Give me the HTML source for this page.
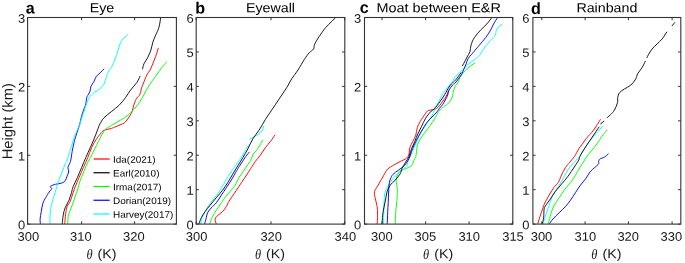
<!DOCTYPE html>
<html><head><meta charset="utf-8"><title>Potential temperature profiles</title>
<style>html,body{margin:0;padding:0;background:#fff}body{width:685px;height:263px;overflow:hidden}</style></head>
<body>
<svg width="685" height="263" viewBox="0 0 685 263" style="display:block" font-family="'Liberation Sans', sans-serif">
<rect width="685" height="263" fill="#fff"/>
<clipPath id="clip-a"><rect x="27.6" y="17.5" width="148.8" height="206.6"/></clipPath>
<g fill="none" stroke-width="1.1" stroke-linejoin="round" stroke-linecap="round" clip-path="url(#clip-a)">
<path stroke="#ff0000" stroke-width="0.95" d="M158.2 48.4C157.8 49.8 156.7 53.7 155.7 56.4C154.7 59.1 153.7 61.5 152.7 63.9C151.7 66.3 151.1 68.1 150.1 70.0C149.1 71.9 147.9 72.9 146.8 75.0C145.7 77.1 144.9 79.6 143.9 82.0C142.9 84.4 141.9 87.0 141.3 88.8C140.7 90.6 140.9 91.4 140.6 92.5C140.3 93.6 140.1 94.2 139.4 95.3C138.7 96.3 137.3 97.2 136.5 98.5C135.7 99.8 135.2 101.2 134.6 102.7C134.0 104.2 133.7 105.6 133.3 107.1C132.9 108.6 132.6 110.1 132.1 111.5C131.6 112.9 131.0 113.9 130.2 115.2C129.4 116.5 128.7 117.7 127.7 119.0C126.7 120.3 125.8 121.8 124.5 122.8C123.2 123.8 121.8 124.1 120.1 124.8C118.4 125.5 116.5 126.4 115.0 127.0C113.5 127.6 113.6 127.7 111.7 128.3C109.8 128.9 105.9 129.6 104.1 130.3C102.3 131.0 102.9 131.0 101.6 132.5C100.3 134.0 98.3 136.2 96.6 138.8C94.8 141.4 93.1 144.3 91.6 147.6C90.1 150.9 89.3 154.1 87.8 157.6C86.3 161.1 84.8 164.2 83.3 167.7C81.8 171.2 80.4 174.5 79.0 177.7C77.6 180.9 76.6 183.2 75.5 186.0C74.4 188.8 73.6 191.2 72.7 193.9C71.8 196.6 71.2 199.2 70.2 201.4C69.2 203.6 68.0 204.2 67.2 206.4C66.4 208.6 66.1 210.9 65.7 214.0C65.3 217.1 64.9 222.3 64.7 224.1"/>
<path stroke="#000000" stroke-width="0.9" d="M160.7 17.5C160.4 19.2 159.8 24.4 158.9 27.5C158.0 30.6 156.8 32.5 155.7 35.1C154.6 37.7 153.5 40.0 152.7 42.6C151.9 45.2 151.8 47.5 150.9 50.1C150.0 52.7 148.9 55.2 147.7 57.6C146.5 60.0 144.8 61.9 143.9 63.9C143.0 65.9 142.8 68.0 142.6 68.9"/>
<path stroke="#000000" stroke-width="0.9" d="M140.0 76.3C139.4 77.4 138.5 80.2 136.8 82.6C135.1 85.0 132.5 87.5 130.5 90.1C128.5 92.7 127.5 95.0 125.5 97.6C123.5 100.2 121.6 102.8 119.2 105.2C116.8 107.6 114.3 109.2 111.7 111.4C109.1 113.6 106.2 115.5 104.1 117.7C102.0 119.9 101.1 121.8 99.9 124.0C98.7 126.2 98.5 127.4 97.5 130.0C96.5 132.6 95.4 135.7 94.1 138.8C92.8 141.9 91.8 144.3 90.3 147.6C88.8 150.9 87.3 154.1 85.8 157.6C84.3 161.1 83.0 164.2 81.5 167.7C80.0 171.2 78.8 174.4 77.3 177.7C75.8 181.0 74.2 183.9 73.2 186.5C72.2 189.1 72.2 190.1 71.5 192.5C70.8 194.9 70.1 197.5 69.0 200.2C67.9 202.9 66.2 205.1 65.2 207.7C64.2 210.3 63.7 212.3 63.2 215.2C62.7 218.1 62.4 222.5 62.2 224.1"/>
<path stroke="#00ff00" stroke-width="0.95" d="M166.5 62.1C165.6 63.2 163.3 65.7 161.4 68.2C159.5 70.7 157.7 73.3 155.6 76.3C153.5 79.3 151.3 82.0 149.3 85.1C147.3 88.2 146.1 90.8 144.3 93.9C142.6 97.0 141.1 100.0 139.3 102.6C137.6 105.2 136.3 106.7 134.3 108.9C132.3 111.1 130.4 113.2 128.0 115.2C125.6 117.2 123.4 118.5 120.5 120.2C117.6 122.0 114.3 123.6 111.7 125.2C109.1 126.8 106.9 128.1 105.4 129.5C103.9 130.9 104.0 131.2 102.9 133.0C101.8 134.8 100.5 137.2 99.1 140.0C97.7 142.8 96.3 145.7 94.8 148.8C93.3 151.9 91.8 154.7 90.3 157.6C88.8 160.5 87.8 162.3 86.5 165.2C85.2 168.1 84.0 171.1 82.8 174.0C81.6 176.9 80.7 178.9 79.8 181.5C78.9 184.1 78.6 186.3 77.8 188.9C77.0 191.5 76.1 193.8 75.2 196.4C74.3 199.0 73.6 201.5 72.7 203.9C71.8 206.3 71.0 208.0 70.2 210.2C69.4 212.4 68.6 214.1 68.2 216.5C67.8 218.9 67.8 222.8 67.7 224.1"/>
<path stroke="#0000ff" stroke-width="0.95" d="M103.9 69.1C103.3 69.7 101.5 71.5 100.2 72.8C98.9 74.1 97.5 74.8 96.4 76.3C95.3 77.8 94.9 79.8 93.9 81.6C92.9 83.4 91.5 85.0 90.8 86.6C90.1 88.2 90.6 89.6 90.1 91.0C89.6 92.4 88.8 93.7 88.2 94.8C87.6 95.9 87.2 95.9 86.8 97.5C86.4 99.1 86.3 101.9 85.8 103.9C85.3 105.9 84.8 106.7 84.0 108.9C83.2 111.1 82.2 113.9 81.5 116.5C80.8 119.1 80.4 121.6 79.8 124.0C79.2 126.4 78.5 127.8 77.8 130.0C77.1 132.2 76.5 134.1 75.8 136.3C75.1 138.5 74.6 140.0 74.0 142.6C73.4 145.2 72.8 148.3 72.2 151.3C71.6 154.3 71.3 157.8 70.8 160.0C70.3 162.2 70.0 162.5 69.5 163.8C69.0 165.1 68.0 166.1 67.9 167.5C67.8 168.9 68.9 170.4 68.7 171.9C68.5 173.4 67.6 174.8 67.0 176.3C66.4 177.8 66.2 179.5 65.2 180.7C64.2 181.9 63.1 182.6 61.4 183.2C59.7 183.8 57.6 183.7 55.7 184.2C53.8 184.7 51.7 185.5 50.8 186.0C49.9 186.5 50.2 186.7 50.4 187.2C50.6 187.7 51.9 188.0 51.8 188.6C51.7 189.2 50.7 190.0 50.1 190.8C49.5 191.6 48.9 192.4 48.4 193.2C47.9 194.0 48.0 193.6 47.1 195.3C46.2 197.0 44.1 199.9 43.1 202.7C42.1 205.5 41.8 208.6 41.3 211.5C40.8 214.4 40.2 216.8 40.1 219.0C40.0 221.2 40.4 223.2 40.5 224.1"/>
<path stroke="#00ffff" stroke-width="0.95" d="M127.9 34.6C127.2 35.2 125.1 36.7 123.8 38.1C122.5 39.5 121.6 40.5 120.6 42.6C119.6 44.7 119.1 47.2 118.1 50.1C117.1 53.0 116.3 55.8 115.1 58.9C113.9 62.0 112.3 65.8 111.3 67.7C110.3 69.6 110.0 68.5 109.2 70.0C108.4 71.5 107.5 73.9 106.6 76.3C105.7 78.7 105.3 81.6 104.1 83.8C102.9 86.0 101.7 87.3 99.9 88.8C98.2 90.3 96.0 91.1 94.1 92.6C92.2 94.1 90.4 95.6 89.1 97.6C87.8 99.6 87.4 101.5 86.5 103.9C85.6 106.3 84.9 108.8 84.0 111.4C83.1 114.0 82.4 116.4 81.5 119.0C80.6 121.6 79.7 124.6 79.0 126.5C78.3 128.4 78.2 128.1 77.3 130.0C76.4 131.9 75.0 134.6 74.0 137.5C73.0 140.4 72.4 143.4 71.5 146.3C70.6 149.2 69.9 151.3 69.0 153.9C68.1 156.5 67.3 159.5 66.5 161.4C65.7 163.3 65.4 163.3 64.7 165.0C64.0 166.7 63.4 168.6 62.5 171.0C61.6 173.4 60.3 176.2 59.5 178.5C58.7 180.8 58.3 182.1 57.7 184.0C57.1 185.9 56.7 187.3 56.0 189.5C55.3 191.7 54.7 193.7 53.9 196.4C53.1 199.1 52.1 202.1 51.4 205.2C50.7 208.3 50.3 210.7 50.1 214.0C49.9 217.3 50.0 222.3 50.0 224.1"/>
</g>
<rect x="27.6" y="17.5" width="148.8" height="206.6" fill="none" stroke="#333333" stroke-width="1.1"/>
<path d="M27.5 224.1v-2.7M27.5 17.5v2.7M81.6 224.1v-2.7M81.6 17.5v2.7M134.6 224.1v-2.7M134.6 17.5v2.7M27.6 224.10h2.7M176.4 224.10h-2.7M27.6 155.23h2.7M176.4 155.23h-2.7M27.6 86.37h2.7M176.4 86.37h-2.7M27.6 17.50h2.7M176.4 17.50h-2.7" stroke="#333333" stroke-width="1.0" fill="none"/>
<text transform="translate(28.40,240.80) rotate(0.05) scale(1.045,1)" font-size="12.4" text-anchor="middle" font-weight="normal" fill="#1a1a1a">300</text>
<text transform="translate(80.80,240.80) rotate(0.05) scale(1.045,1)" font-size="12.4" text-anchor="middle" font-weight="normal" fill="#1a1a1a">310</text>
<text transform="translate(133.90,240.80) rotate(0.05) scale(1.045,1)" font-size="12.4" text-anchor="middle" font-weight="normal" fill="#1a1a1a">320</text>
<text transform="translate(25.20,229.30) rotate(0.05) scale(1.045,1)" font-size="12.4" text-anchor="end" font-weight="normal" fill="#1a1a1a">0</text>
<text transform="translate(25.20,160.43) rotate(0.05) scale(1.045,1)" font-size="12.4" text-anchor="end" font-weight="normal" fill="#1a1a1a">1</text>
<text transform="translate(25.20,91.57) rotate(0.05) scale(1.045,1)" font-size="12.4" text-anchor="end" font-weight="normal" fill="#1a1a1a">2</text>
<text transform="translate(25.20,22.70) rotate(0.05) scale(1.045,1)" font-size="12.4" text-anchor="end" font-weight="normal" fill="#1a1a1a">3</text>
<text transform="translate(102.00,12.20) rotate(0.05) scale(1.08,1)" font-size="13.2" text-anchor="middle" font-weight="normal" fill="#000">Eye</text>
<text transform="translate(25.80,13.50) rotate(0.05) scale(1.0,1)" font-size="16.1" text-anchor="start" font-weight="bold" fill="#000">a</text>
<text transform="translate(86.40,258.9) rotate(0.05) scale(0.86,1)" font-family="'Liberation Serif', 'DejaVu Serif', serif" font-style="italic" font-size="14.5" fill="#1a1a1a">θ</text>
<text transform="translate(116.60,258.20) rotate(0.05) scale(1.08,1)" font-size="13.2" text-anchor="end" font-weight="normal" fill="#1a1a1a">(K)</text>
<clipPath id="clip-b"><rect x="196.2" y="17.5" width="148.6" height="206.6"/></clipPath>
<g fill="none" stroke-width="1.1" stroke-linejoin="round" stroke-linecap="round" clip-path="url(#clip-b)">
<path stroke="#ff0000" stroke-width="0.95" d="M274.9 135.1C274.1 136.2 272.1 139.2 270.4 141.4C268.7 143.6 267.2 145.3 265.4 147.7C263.6 150.1 262.1 152.8 260.3 155.2C258.5 157.6 256.8 159.5 255.3 161.5C253.8 163.5 253.1 164.8 252.0 166.5C250.9 168.2 250.4 169.1 249.0 171.3C247.6 173.5 245.8 176.2 244.0 178.8C242.2 181.4 240.8 183.7 239.0 186.3C237.2 188.9 235.8 191.3 234.0 193.9C232.2 196.5 230.2 199.2 228.9 201.4C227.6 203.6 227.5 204.6 226.4 206.4C225.3 208.2 224.2 210.0 222.7 211.5C221.2 213.0 219.4 213.9 218.1 215.2C216.8 216.5 215.4 217.4 215.1 219.0C214.8 220.6 216.2 223.2 216.4 224.1"/>
<path stroke="#00ffff" stroke-width="0.95" d="M200.6 224.1C200.7 223.4 200.7 222.0 201.3 220.2C201.9 218.4 202.5 216.5 203.8 214.0C205.1 211.5 206.6 208.8 208.5 206.0C210.4 203.2 212.4 200.9 214.5 198.0C216.6 195.1 218.4 192.7 220.5 189.5C222.6 186.3 224.6 182.3 226.3 179.5C228.0 176.7 228.4 176.0 230.0 173.5C231.6 171.0 233.6 168.3 235.7 165.3C237.8 162.3 240.0 159.6 241.9 156.5C243.8 153.4 245.6 149.7 246.8 147.7C248.0 145.7 248.2 145.5 248.5 145.0"/>
<path stroke="#00ffff" stroke-width="0.95" d="M250.1 138.9C251.0 138.4 253.7 137.0 255.2 136.1C256.7 135.2 257.7 134.7 258.9 133.8C260.1 132.9 261.3 132.0 262.1 130.7C262.9 129.4 263.4 127.1 263.7 126.3"/>
<path stroke="#000000" stroke-width="0.9" d="M335.7 17.5C335.0 18.2 333.7 19.5 331.9 21.3C330.1 23.1 327.4 25.6 325.6 27.6C323.9 29.6 323.4 30.4 321.9 32.6C320.4 34.8 318.1 38.0 316.8 40.2C315.5 42.4 314.9 43.7 314.3 45.2C313.7 46.7 314.5 47.7 313.6 49.0C312.7 50.3 310.9 50.9 309.3 52.7C307.7 54.5 306.3 56.5 304.3 59.5C302.3 62.5 300.2 66.6 298.0 70.0C295.8 73.4 293.7 75.7 291.7 78.8C289.7 81.9 288.9 84.1 286.7 87.6C284.5 91.1 281.8 94.9 279.2 98.9C276.6 102.9 274.0 106.6 271.6 110.2C269.2 113.8 267.6 116.0 265.4 119.5C263.2 123.0 261.3 126.7 259.1 130.1C256.9 133.5 254.8 135.6 252.8 138.9C250.8 142.2 249.6 145.6 247.8 148.9C246.1 152.2 244.6 154.7 242.8 157.7C241.0 160.7 239.5 163.1 237.7 166.0C235.9 168.9 234.2 171.6 232.5 174.5C230.8 177.4 229.4 179.9 227.7 182.6C226.0 185.3 224.7 187.5 222.7 190.1C220.7 192.7 218.6 195.0 216.4 197.6C214.2 200.2 212.1 202.8 210.1 205.2C208.1 207.6 206.6 209.3 205.1 211.5C203.6 213.7 202.4 215.5 201.3 217.7C200.2 219.9 199.2 223.0 198.8 224.1"/>
<path stroke="#00ff00" stroke-width="0.95" d="M262.8 140.1C262.3 141.0 260.9 143.4 259.8 145.2C258.7 147.0 257.7 148.7 256.6 150.2C255.5 151.7 254.3 152.2 253.3 153.9C252.3 155.7 251.8 158.3 250.8 160.2C249.8 162.1 248.8 163.1 247.5 165.0C246.2 166.9 244.8 169.1 243.3 171.3C241.8 173.5 240.4 175.2 239.0 177.6C237.6 180.0 236.7 182.7 235.2 185.1C233.7 187.5 231.9 189.4 230.2 191.4C228.5 193.4 227.2 194.4 225.7 196.4C224.2 198.4 223.0 200.3 221.4 202.7C219.8 205.1 217.9 207.8 216.4 210.2C214.9 212.6 213.8 214.1 212.6 216.5C211.4 218.9 210.1 222.8 209.6 224.1"/>
<path stroke="#0000ff" stroke-width="0.95" d="M249.3 152.2C248.7 153.0 247.3 154.4 245.8 156.5C244.3 158.6 242.2 161.9 240.8 164.0C239.4 166.1 238.9 167.0 238.0 168.5C237.1 170.0 236.8 170.5 235.6 172.5C234.4 174.5 232.9 177.5 231.3 180.1C229.7 182.7 228.1 185.0 226.4 187.6C224.7 190.2 223.2 192.5 221.4 195.1C219.7 197.7 218.2 200.5 216.4 202.7C214.7 204.9 212.9 205.9 211.4 207.7C209.9 209.4 208.5 210.9 207.6 212.7C206.7 214.4 206.8 215.7 206.3 217.7C205.8 219.7 204.9 223.0 204.6 224.1"/>
</g>
<rect x="196.2" y="17.5" width="148.6" height="206.6" fill="none" stroke="#333333" stroke-width="1.1"/>
<path d="M196.2 224.1v-2.7M196.2 17.5v2.7M271.0 224.1v-2.7M271.0 17.5v2.7M344.8 224.1v-2.7M344.8 17.5v2.7M196.2 224.10h2.7M344.8 224.10h-2.7M196.2 189.67h2.7M344.8 189.67h-2.7M196.2 155.23h2.7M344.8 155.23h-2.7M196.2 120.80h2.7M344.8 120.80h-2.7M196.2 86.37h2.7M344.8 86.37h-2.7M196.2 51.93h2.7M344.8 51.93h-2.7M196.2 17.50h2.7M344.8 17.50h-2.7" stroke="#333333" stroke-width="1.0" fill="none"/>
<text transform="translate(196.60,240.80) rotate(0.05) scale(1.045,1)" font-size="12.4" text-anchor="middle" font-weight="normal" fill="#1a1a1a">300</text>
<text transform="translate(271.20,240.80) rotate(0.05) scale(1.045,1)" font-size="12.4" text-anchor="middle" font-weight="normal" fill="#1a1a1a">320</text>
<text transform="translate(345.40,240.80) rotate(0.05) scale(1.045,1)" font-size="12.4" text-anchor="middle" font-weight="normal" fill="#1a1a1a">340</text>
<text transform="translate(193.70,229.30) rotate(0.05) scale(1.045,1)" font-size="12.4" text-anchor="end" font-weight="normal" fill="#1a1a1a">0</text>
<text transform="translate(193.70,194.87) rotate(0.05) scale(1.045,1)" font-size="12.4" text-anchor="end" font-weight="normal" fill="#1a1a1a">1</text>
<text transform="translate(193.70,160.43) rotate(0.05) scale(1.045,1)" font-size="12.4" text-anchor="end" font-weight="normal" fill="#1a1a1a">2</text>
<text transform="translate(193.70,126.00) rotate(0.05) scale(1.045,1)" font-size="12.4" text-anchor="end" font-weight="normal" fill="#1a1a1a">3</text>
<text transform="translate(193.70,91.57) rotate(0.05) scale(1.045,1)" font-size="12.4" text-anchor="end" font-weight="normal" fill="#1a1a1a">4</text>
<text transform="translate(193.70,57.13) rotate(0.05) scale(1.045,1)" font-size="12.4" text-anchor="end" font-weight="normal" fill="#1a1a1a">5</text>
<text transform="translate(193.70,22.70) rotate(0.05) scale(1.045,1)" font-size="12.4" text-anchor="end" font-weight="normal" fill="#1a1a1a">6</text>
<text transform="translate(270.50,12.20) rotate(0.05) scale(1.08,1)" font-size="13.2" text-anchor="middle" font-weight="normal" fill="#000">Eyewall</text>
<text transform="translate(195.20,13.50) rotate(0.05) scale(1.0,1)" font-size="16.1" text-anchor="start" font-weight="bold" fill="#000">b</text>
<text transform="translate(254.90,258.9) rotate(0.05) scale(0.86,1)" font-family="'Liberation Serif', 'DejaVu Serif', serif" font-style="italic" font-size="14.5" fill="#1a1a1a">θ</text>
<text transform="translate(285.10,258.20) rotate(0.05) scale(1.08,1)" font-size="13.2" text-anchor="end" font-weight="normal" fill="#1a1a1a">(K)</text>
<clipPath id="clip-c"><rect x="364.5" y="17.5" width="148.3" height="206.6"/></clipPath>
<g fill="none" stroke-width="1.1" stroke-linejoin="round" stroke-linecap="round" clip-path="url(#clip-c)">
<path stroke="#ff0000" stroke-width="0.95" d="M448.3 90.7C448.1 91.3 447.7 93.0 447.1 94.4C446.5 95.8 445.6 97.3 444.6 98.8C443.6 100.3 442.5 101.8 441.4 103.2C440.3 104.6 439.5 105.9 438.3 107.0C437.1 108.1 435.9 109.0 434.5 109.5C433.1 110.0 431.4 109.8 430.1 110.1C428.8 110.4 427.8 110.8 427.0 111.4C426.2 112.0 426.5 112.1 425.3 113.8C424.1 115.5 421.7 118.9 420.3 121.3C418.9 123.7 418.1 125.2 417.3 127.6C416.5 130.0 416.6 132.7 415.8 135.1C415.0 137.5 413.9 139.2 412.8 141.4C411.8 143.6 410.5 145.5 409.8 147.7C409.1 149.9 409.6 152.2 409.0 154.0C408.4 155.8 408.0 156.9 406.5 158.2C405.0 159.5 402.5 160.3 400.2 161.5C397.9 162.7 395.7 163.9 393.5 165.2C391.3 166.5 389.4 167.3 387.7 169.0C386.0 170.7 385.4 172.5 383.9 175.1C382.4 177.7 380.5 181.0 378.9 183.9C377.3 186.8 375.3 189.0 374.6 191.4C373.9 193.8 374.7 195.1 375.1 197.7C375.5 200.3 376.7 203.4 377.1 206.5C377.5 209.6 377.6 212.1 377.6 215.2C377.6 218.3 377.2 222.5 377.1 224.1"/>
<path stroke="#00ff00" stroke-width="0.95" d="M474.8 63.0C474.1 63.5 472.2 64.7 470.9 65.7C469.6 66.7 468.4 67.6 467.1 68.8C465.8 70.0 464.6 71.2 463.4 72.6C462.2 74.0 461.2 75.2 460.2 77.0C459.2 78.8 458.6 81.4 457.7 83.0C456.8 84.6 456.0 84.8 455.2 86.3C454.4 87.8 453.8 89.7 453.4 91.3C453.0 92.9 453.2 94.2 452.7 95.7C452.2 97.2 451.7 98.7 450.8 100.1C449.9 101.5 449.0 102.7 447.7 103.9C446.4 105.1 444.7 105.9 443.3 107.0C441.9 108.1 440.9 108.2 439.5 110.1C438.1 112.0 437.0 115.0 435.4 117.6C433.8 120.2 432.3 122.5 430.4 125.1C428.5 127.7 426.6 130.2 424.8 132.6C423.0 135.0 421.6 136.7 420.3 138.9C419.0 141.1 418.0 143.0 417.3 145.2C416.6 147.4 416.8 149.5 416.5 151.5C416.2 153.5 416.3 154.9 415.8 156.5C415.3 158.1 414.3 159.1 413.7 160.5C413.1 161.9 413.4 163.2 412.5 164.4C411.6 165.6 410.2 166.6 408.7 167.5C407.2 168.4 405.2 168.7 403.7 169.4C402.2 170.1 401.0 170.3 399.9 171.3C398.8 172.3 398.1 173.6 397.4 175.1C396.7 176.6 396.2 178.3 396.1 180.1C396.0 181.8 396.6 183.3 396.8 185.1C397.0 186.8 397.3 188.4 397.4 190.1C397.5 191.8 397.3 192.8 397.2 195.0C397.1 197.2 397.0 199.6 396.7 202.7C396.4 205.8 396.0 209.0 395.7 212.7C395.4 216.4 395.3 222.1 395.2 224.1"/>
<path stroke="#00ffff" stroke-width="0.95" d="M501.9 24.4C501.0 25.2 498.1 27.0 496.9 28.9C495.7 30.8 496.3 33.2 495.2 35.2C494.1 37.2 492.5 38.0 490.6 40.2C488.7 42.4 486.2 45.2 484.4 47.7C482.6 50.2 481.7 52.6 480.3 54.4C478.9 56.2 478.0 56.9 476.5 58.2C475.0 59.5 473.2 60.6 471.5 61.9C469.8 63.2 467.9 64.4 466.5 65.7C465.1 67.0 464.6 68.3 463.4 69.5C462.2 70.7 461.0 71.4 459.6 72.6C458.2 73.8 456.7 75.1 455.5 76.5C454.3 77.9 454.0 79.1 453.0 80.5C452.0 81.9 451.5 82.6 450.0 84.5C448.5 86.4 446.0 89.4 444.6 91.3C443.2 93.2 442.9 93.8 442.1 95.1C441.3 96.4 441.0 97.4 440.2 98.8C439.4 100.2 438.5 101.8 437.7 103.2C436.9 104.6 436.5 105.6 435.8 107.0C435.1 108.4 434.6 109.8 433.9 111.4C433.2 113.0 432.9 114.1 431.6 116.3C430.3 118.5 428.4 121.2 426.6 123.8C424.9 126.4 423.2 128.5 421.6 131.4C420.0 134.3 418.6 137.3 417.3 140.2C416.0 143.1 415.1 145.1 414.0 147.7C412.9 150.3 411.9 152.9 410.8 155.2C409.8 157.5 408.8 159.1 408.0 161.0C407.2 162.9 408.1 164.3 406.5 166.3C404.9 168.3 401.4 170.4 399.0 172.6C396.6 174.8 394.7 176.4 392.7 178.8C390.7 181.2 389.1 183.8 387.7 186.4C386.3 189.0 385.3 191.3 384.7 193.9C384.1 196.5 384.3 198.5 384.1 201.4C383.9 204.3 383.9 206.2 383.8 210.2C383.7 214.2 383.6 221.7 383.5 224.1"/>
<path stroke="#0000ff" stroke-width="0.95" d="M497.7 17.5C497.0 18.6 494.8 21.7 493.6 23.9C492.4 26.1 492.0 27.7 490.6 30.1C489.2 32.5 487.6 35.1 485.6 37.7C483.6 40.3 481.1 43.0 479.3 45.2C477.5 47.4 476.7 48.4 475.3 50.0C473.9 51.6 472.8 52.9 471.5 54.4C470.2 55.9 468.9 57.2 468.0 58.8C467.1 60.4 466.9 62.0 466.2 63.8C465.5 65.5 464.8 66.9 464.0 68.8C463.2 70.7 462.5 72.7 461.5 74.5C460.5 76.3 459.4 77.4 458.3 78.9C457.2 80.4 456.2 81.9 455.2 83.0C454.2 84.1 453.8 83.8 452.7 85.0C451.6 86.2 449.9 88.2 449.0 90.0C448.1 91.8 448.4 93.3 447.7 95.1C447.0 96.9 446.1 98.5 445.2 100.1C444.3 101.7 443.7 103.1 442.7 104.5C441.7 105.9 440.7 106.7 439.5 108.2C438.3 109.7 438.0 110.7 436.0 113.0C434.0 115.3 430.2 118.5 427.9 121.3C425.6 124.1 424.6 126.0 422.8 128.9C421.0 131.8 419.3 134.7 417.8 137.6C416.3 140.5 415.1 142.8 414.0 145.2C412.9 147.6 412.4 149.2 411.5 151.5C410.6 153.8 410.2 156.1 409.0 158.5C407.8 160.9 406.7 163.0 404.9 165.0C403.1 167.0 400.7 168.4 398.6 170.0C396.5 171.6 394.4 172.9 393.0 174.4C391.6 175.9 391.2 177.1 390.5 178.8C389.8 180.5 389.5 181.4 389.2 183.9C388.9 186.4 388.8 189.7 388.6 193.0C388.4 196.3 388.4 199.3 388.2 202.7C388.0 206.1 387.9 209.0 387.7 212.7C387.5 216.4 387.3 222.1 387.2 224.1"/>
<path stroke="#000000" stroke-width="0.9" d="M491.9 17.5C491.0 18.6 488.9 21.7 486.9 23.9C484.9 26.1 482.8 27.7 480.6 30.1C478.4 32.5 476.0 35.1 474.3 37.7C472.6 40.3 471.8 42.8 471.0 45.2C470.2 47.6 470.7 49.4 470.0 51.5C469.3 53.6 467.9 55.4 467.1 57.0C466.3 58.6 466.0 59.2 465.2 60.7C464.4 62.2 463.0 64.8 462.5 65.7"/>
<path stroke="#000000" stroke-width="0.9" d="M461.0 72.8C460.0 74.1 457.2 78.2 455.5 80.1C453.8 82.0 452.8 82.4 451.5 83.8C450.2 85.2 449.3 86.7 448.3 88.2C447.3 89.7 446.7 91.1 445.8 92.6C444.9 94.1 444.3 95.4 443.3 96.9C442.3 98.4 441.3 99.8 440.2 101.3C439.1 102.8 438.2 104.3 437.0 105.7C435.8 107.1 434.5 108.4 433.3 109.5C432.1 110.6 431.8 110.4 430.4 112.0C429.0 113.6 426.8 116.3 425.3 118.8C423.8 121.3 422.9 123.7 421.6 126.3C420.3 128.9 419.0 131.3 417.8 133.9C416.6 136.5 415.9 138.8 414.8 141.4C413.7 144.0 412.5 146.3 411.5 148.9C410.5 151.5 410.1 154.1 409.0 156.5C407.9 158.9 406.4 160.7 405.2 162.8C404.0 164.9 402.9 166.6 402.0 168.5C401.1 170.4 401.4 171.8 400.2 173.8C399.0 175.8 396.9 178.1 395.2 180.1C393.4 182.1 391.6 183.1 390.2 185.1C388.8 187.1 388.0 189.0 387.2 191.4C386.4 193.8 386.3 196.0 385.7 198.9C385.1 201.8 384.4 204.8 383.9 207.7C383.4 210.6 382.9 212.3 382.6 215.2C382.3 218.1 382.2 222.5 382.1 224.1"/>
</g>
<rect x="364.5" y="17.5" width="148.3" height="206.6" fill="none" stroke="#333333" stroke-width="1.1"/>
<path d="M382.0 224.1v-2.7M382.0 17.5v2.7M425.6 224.1v-2.7M425.6 17.5v2.7M469.1 224.1v-2.7M469.1 17.5v2.7M512.6 224.1v-2.7M512.6 17.5v2.7M364.5 224.10h2.7M512.8 224.10h-2.7M364.5 155.23h2.7M512.8 155.23h-2.7M364.5 86.37h2.7M512.8 86.37h-2.7M364.5 17.50h2.7M512.8 17.50h-2.7" stroke="#333333" stroke-width="1.0" fill="none"/>
<text transform="translate(381.80,240.80) rotate(0.05) scale(1.045,1)" font-size="12.4" text-anchor="middle" font-weight="normal" fill="#1a1a1a">300</text>
<text transform="translate(425.30,240.80) rotate(0.05) scale(1.045,1)" font-size="12.4" text-anchor="middle" font-weight="normal" fill="#1a1a1a">305</text>
<text transform="translate(469.20,240.80) rotate(0.05) scale(1.045,1)" font-size="12.4" text-anchor="middle" font-weight="normal" fill="#1a1a1a">310</text>
<text transform="translate(513.00,240.80) rotate(0.05) scale(1.045,1)" font-size="12.4" text-anchor="middle" font-weight="normal" fill="#1a1a1a">315</text>
<text transform="translate(361.10,229.30) rotate(0.05) scale(1.045,1)" font-size="12.4" text-anchor="end" font-weight="normal" fill="#1a1a1a">0</text>
<text transform="translate(361.10,160.43) rotate(0.05) scale(1.045,1)" font-size="12.4" text-anchor="end" font-weight="normal" fill="#1a1a1a">1</text>
<text transform="translate(361.10,91.57) rotate(0.05) scale(1.045,1)" font-size="12.4" text-anchor="end" font-weight="normal" fill="#1a1a1a">2</text>
<text transform="translate(361.10,22.70) rotate(0.05) scale(1.045,1)" font-size="12.4" text-anchor="end" font-weight="normal" fill="#1a1a1a">3</text>
<text transform="translate(438.65,12.20) rotate(0.05) scale(1.095,1)" font-size="13.2" text-anchor="middle" font-weight="normal" fill="#000">Moat between E&amp;R</text>
<text transform="translate(359.70,12.90) rotate(0.05) scale(1.0,1)" font-size="16.1" text-anchor="start" font-weight="bold" fill="#000">c</text>
<text transform="translate(423.05,258.9) rotate(0.05) scale(0.86,1)" font-family="'Liberation Serif', 'DejaVu Serif', serif" font-style="italic" font-size="14.5" fill="#1a1a1a">θ</text>
<text transform="translate(453.25,258.20) rotate(0.05) scale(1.08,1)" font-size="13.2" text-anchor="end" font-weight="normal" fill="#1a1a1a">(K)</text>
<clipPath id="clip-d"><rect x="532.9" y="17.5" width="147.9" height="206.6"/></clipPath>
<g fill="none" stroke-width="1.1" stroke-linejoin="round" stroke-linecap="round" clip-path="url(#clip-d)">
<path stroke="#ff0000" stroke-width="0.95" d="M600.3 119.6C599.8 120.4 598.6 122.6 597.4 124.4C596.2 126.2 595.0 128.2 593.7 130.0C592.4 131.8 591.2 132.9 589.9 134.4C588.6 135.9 587.4 137.1 586.1 138.8C584.8 140.5 583.6 142.3 582.4 143.9C581.2 145.5 580.2 146.7 579.2 148.2C578.2 149.7 577.6 151.1 576.7 152.6C575.8 154.1 575.4 155.1 574.2 156.8C573.0 158.5 571.3 160.4 569.8 162.3C568.3 164.2 567.0 165.1 565.5 167.5C564.0 169.9 562.3 173.4 561.1 176.0C559.9 178.6 559.7 180.2 558.4 182.3C557.1 184.4 555.3 185.5 553.6 187.9C551.9 190.3 550.1 193.5 548.6 196.1C547.1 198.7 545.8 200.8 544.8 203.0C543.8 205.2 543.5 206.2 542.7 208.6C541.9 211.0 540.9 213.8 540.0 216.5C539.1 219.2 538.1 222.8 537.7 224.1"/>
<path stroke="#00ff00" stroke-width="0.95" d="M606.9 130.1C606.0 131.2 603.6 134.0 601.9 136.4C600.1 138.8 598.6 141.5 596.9 143.9C595.1 146.3 593.7 148.0 591.9 150.2C590.1 152.4 588.2 154.6 586.8 156.5C585.4 158.4 585.2 159.1 584.0 161.0C582.8 162.9 581.3 165.0 579.8 167.5C578.3 170.0 577.1 172.5 575.5 175.1C573.9 177.7 572.5 180.0 570.5 182.6C568.5 185.2 566.2 187.5 564.2 190.1C562.2 192.7 561.0 195.1 559.2 197.7C557.5 200.3 555.6 202.6 554.2 205.2C552.8 207.8 552.1 210.1 551.2 212.7C550.3 215.3 549.8 218.3 549.2 220.3C548.6 222.3 548.1 223.4 547.9 224.1"/>
<path stroke="#0000ff" stroke-width="0.95" d="M608.2 154.0C607.5 154.6 605.9 156.3 604.4 157.2C602.9 158.1 600.9 158.2 599.9 159.0C598.9 159.8 599.0 160.5 598.7 161.5C598.4 162.5 599.5 162.8 598.1 164.5C596.7 166.2 592.8 168.8 590.6 171.3C588.4 173.8 587.4 176.4 585.6 178.8C583.8 181.2 582.3 182.7 580.5 185.1C578.7 187.5 577.2 190.0 575.5 192.6C573.8 195.2 572.2 197.8 570.5 200.2C568.8 202.6 567.5 204.3 565.5 206.5C563.5 208.7 561.4 210.5 559.2 212.7C557.0 214.9 554.6 217.0 552.9 219.0C551.1 221.0 549.8 223.2 549.2 224.1"/>
<path stroke="#00ffff" stroke-width="0.95" d="M602.4 126.3C601.9 127.0 600.6 128.8 599.4 130.1C598.2 131.4 597.3 132.1 595.6 133.9C593.9 135.7 591.8 138.0 589.9 140.6C588.0 143.2 586.2 145.9 584.5 148.6C582.8 151.3 581.4 154.0 580.0 156.0C578.6 158.0 578.3 158.2 576.6 160.0C574.9 161.8 572.4 163.9 570.5 166.3C568.6 168.7 567.0 171.2 565.5 173.8C564.0 176.4 563.2 178.7 561.7 181.3C560.2 183.9 558.5 186.0 556.7 188.9C555.0 191.8 553.0 194.8 551.7 197.7C550.4 200.6 550.1 202.6 549.2 205.2C548.3 207.8 547.5 210.1 546.6 212.7C545.7 215.3 544.6 218.3 544.1 220.3C543.6 222.3 543.7 223.4 543.6 224.1"/>
<path stroke="#000000" stroke-width="0.9" d="M674.7 22.6 L672.2 25.6"/>
<path stroke="#000000" stroke-width="0.9" d="M666.7 32.1C665.9 33.3 663.9 36.8 662.2 38.9C660.5 41.0 658.9 42.1 657.1 43.9C655.3 45.7 653.6 47.1 652.1 49.0C650.6 50.9 649.3 53.2 648.4 54.7C647.5 56.2 647.2 57.1 647.0 57.6"/>
<path stroke="#000000" stroke-width="0.9" d="M645.3 61.3C644.7 62.4 643.4 65.4 642.1 67.6C640.8 69.8 638.7 71.8 637.6 73.8C636.5 75.8 637.0 76.9 635.8 78.9C634.6 80.9 632.8 83.3 630.8 85.1C628.8 86.8 626.5 87.6 624.5 88.9C622.5 90.2 620.7 91.2 619.5 92.7C618.3 94.2 618.1 96.0 617.7 97.7C617.4 99.5 618.1 100.5 617.5 102.7C616.9 104.9 615.7 107.9 614.5 110.0C613.3 112.1 611.9 113.2 610.7 114.5C609.5 115.8 608.0 117.0 607.4 117.5"/>
<path stroke="#000000" stroke-width="0.9" d="M603.9 121.3 L600.6 123.8"/>
<path stroke="#000000" stroke-width="0.9" d="M598.9 127.1C598.1 128.3 596.1 131.4 594.4 133.9C592.7 136.4 591.1 138.8 589.3 141.4C587.5 144.0 586.0 146.3 584.3 148.9C582.6 151.5 580.8 154.6 579.8 156.5C578.8 158.4 579.8 158.2 578.8 160.0C577.8 161.8 576.2 164.1 574.3 167.0C572.4 169.9 570.2 173.3 568.0 176.3C565.8 179.3 563.9 181.3 561.7 183.9C559.5 186.5 557.4 188.8 555.4 191.4C553.4 194.0 552.1 196.3 550.4 198.9C548.6 201.5 546.5 204.2 545.4 206.0C544.3 207.8 544.4 206.9 544.1 209.0C543.8 211.1 544.0 215.2 543.6 217.8C543.2 220.4 542.4 223.0 542.1 224.1"/>
</g>
<rect x="532.9" y="17.5" width="147.9" height="206.6" fill="none" stroke="#333333" stroke-width="1.1"/>
<path d="M541.8 224.1v-2.7M541.8 17.5v2.7M585.1 224.1v-2.7M585.1 17.5v2.7M628.4 224.1v-2.7M628.4 17.5v2.7M672.1 224.1v-2.7M672.1 17.5v2.7M532.9 224.10h2.7M680.8 224.10h-2.7M532.9 189.67h2.7M680.8 189.67h-2.7M532.9 155.23h2.7M680.8 155.23h-2.7M532.9 120.80h2.7M680.8 120.80h-2.7M532.9 86.37h2.7M680.8 86.37h-2.7M532.9 51.93h2.7M680.8 51.93h-2.7M532.9 17.50h2.7M680.8 17.50h-2.7" stroke="#333333" stroke-width="1.0" fill="none"/>
<text transform="translate(541.50,240.80) rotate(0.05) scale(1.045,1)" font-size="12.4" text-anchor="middle" font-weight="normal" fill="#1a1a1a">300</text>
<text transform="translate(585.30,240.80) rotate(0.05) scale(1.045,1)" font-size="12.4" text-anchor="middle" font-weight="normal" fill="#1a1a1a">310</text>
<text transform="translate(628.20,240.80) rotate(0.05) scale(1.045,1)" font-size="12.4" text-anchor="middle" font-weight="normal" fill="#1a1a1a">320</text>
<text transform="translate(671.30,240.80) rotate(0.05) scale(1.045,1)" font-size="12.4" text-anchor="middle" font-weight="normal" fill="#1a1a1a">330</text>
<text transform="translate(529.40,229.30) rotate(0.05) scale(1.045,1)" font-size="12.4" text-anchor="end" font-weight="normal" fill="#1a1a1a">0</text>
<text transform="translate(529.40,194.87) rotate(0.05) scale(1.045,1)" font-size="12.4" text-anchor="end" font-weight="normal" fill="#1a1a1a">1</text>
<text transform="translate(529.40,160.43) rotate(0.05) scale(1.045,1)" font-size="12.4" text-anchor="end" font-weight="normal" fill="#1a1a1a">2</text>
<text transform="translate(529.40,126.00) rotate(0.05) scale(1.045,1)" font-size="12.4" text-anchor="end" font-weight="normal" fill="#1a1a1a">3</text>
<text transform="translate(529.40,91.57) rotate(0.05) scale(1.045,1)" font-size="12.4" text-anchor="end" font-weight="normal" fill="#1a1a1a">4</text>
<text transform="translate(529.40,57.13) rotate(0.05) scale(1.045,1)" font-size="12.4" text-anchor="end" font-weight="normal" fill="#1a1a1a">5</text>
<text transform="translate(529.40,22.70) rotate(0.05) scale(1.045,1)" font-size="12.4" text-anchor="end" font-weight="normal" fill="#1a1a1a">6</text>
<text transform="translate(606.85,12.20) rotate(0.05) scale(1.08,1)" font-size="13.2" text-anchor="middle" font-weight="normal" fill="#000">Rainband</text>
<text transform="translate(531.10,13.90) rotate(0.05) scale(1.0,1)" font-size="16.1" text-anchor="start" font-weight="bold" fill="#000">d</text>
<text transform="translate(591.25,258.9) rotate(0.05) scale(0.86,1)" font-family="'Liberation Serif', 'DejaVu Serif', serif" font-style="italic" font-size="14.5" fill="#1a1a1a">θ</text>
<text transform="translate(621.45,258.20) rotate(0.05) scale(1.08,1)" font-size="13.2" text-anchor="end" font-weight="normal" fill="#1a1a1a">(K)</text>
<text transform="translate(12.40,121.20) rotate(-89.95) scale(1.025,1)" font-size="14.4" text-anchor="middle" font-weight="normal" fill="#1a1a1a">Height (km)</text>
<line x1="93.5" x2="109.7" y1="159.00" y2="159.00" stroke="#ff0000" stroke-width="1.2"/>
<text transform="translate(113.00,162.70) rotate(0.05) scale(1.06,1)" font-size="9.4" text-anchor="start" font-weight="normal" fill="#000">Ida(2021)</text>
<line x1="93.5" x2="109.7" y1="172.75" y2="172.75" stroke="#000000" stroke-width="1.2"/>
<text transform="translate(113.00,176.45) rotate(0.05) scale(1.06,1)" font-size="9.4" text-anchor="start" font-weight="normal" fill="#000">Earl(2010)</text>
<line x1="93.5" x2="109.7" y1="186.50" y2="186.50" stroke="#00ff00" stroke-width="1.2"/>
<text transform="translate(113.00,190.20) rotate(0.05) scale(1.06,1)" font-size="9.4" text-anchor="start" font-weight="normal" fill="#000">Irma(2017)</text>
<line x1="93.5" x2="109.7" y1="200.25" y2="200.25" stroke="#0000ff" stroke-width="1.2"/>
<text transform="translate(113.00,203.95) rotate(0.05) scale(1.06,1)" font-size="9.4" text-anchor="start" font-weight="normal" fill="#000">Dorian(2019)</text>
<line x1="93.5" x2="109.7" y1="214.00" y2="214.00" stroke="#00ffff" stroke-width="1.2"/>
<text transform="translate(113.00,217.70) rotate(0.05) scale(1.06,1)" font-size="9.4" text-anchor="start" font-weight="normal" fill="#000">Harvey(2017)</text>
</svg>
</body></html>
